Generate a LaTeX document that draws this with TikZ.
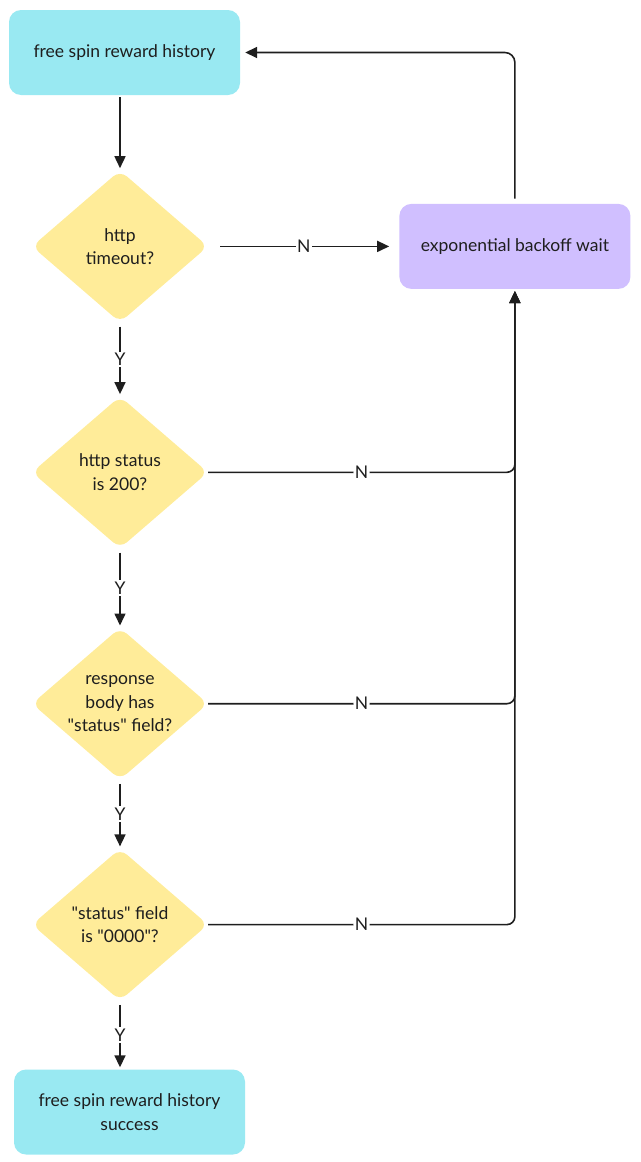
\documentclass[tikz,border=0pt]{standalone}
\usepackage{fontspec}
\setmainfont{Lato}
\usepackage{xcolor}
\usetikzlibrary{positioning,arrows.meta,shapes.geometric}
\definecolor{startfill}{HTML}{99E9F2}
\definecolor{waitfill}{HTML}{D0BFFF}
\definecolor{testfill}{HTML}{FFEC99}
\definecolor{ink}{HTML}{1E1E1E}
\newcommand{\dq}{\textquotedbl}

\begin{document}
\begin{tikzpicture}[x=1pt, y=-1pt, font=\fontsize{17.5}{23.5}\selectfont,
  box/.style={rounded corners=12pt, align=center, minimum width=231pt,
              minimum height=85pt, text=ink},
  test/.style={diamond, fill=testfill, rounded corners=9pt, align=center,
               inner sep=-20pt, minimum width=176pt, minimum height=152pt, text=ink},
  arr/.style={-{Triangle[length=12pt, width=11pt]}, line width=1.6pt, draw=ink,
              shorten <=4pt, shorten >=2pt},
  tag/.style={fill=white, inner sep=1.5pt, text=ink}]
\useasboundingbox (0,0) rectangle (640,1162);
\node[box, fill=startfill] (req) at (124.5,52.5) {free spin reward history};
\node[test, below=75pt of req, xshift=-4.5pt] (timeout) {http\\timeout?};
\node[box, fill=waitfill, right=191pt of timeout] (wait) {exponential backoff wait};
\node[test, below=73.5pt of timeout] (status) {http status\\is 200?};
\node[test, below=79pt of status] (field) {response\\body has\\\dq status\dq{} field?};
\node[test, below=68.5pt of field] (code) {\dq status\dq{} field\\is \dq 0000\dq?};
\node[box, fill=startfill, below=68.5pt of code, xshift=9.5pt] (done) {free spin reward history\\success};
% main column
\draw[arr, shorten <=2pt] (req.south -| timeout.north) -- (timeout.north);
\draw[arr] (timeout) -- node[tag] {Y} (status);
\draw[arr] (status) -- node[tag] {Y} (field);
\draw[arr] (field) -- node[tag] {Y} (code);
\draw[arr] (code) -- node[tag] {Y} (code.south |- done.north);
% retry branch
\draw[arr, shorten <=12pt, shorten >=10pt] (timeout) -- node[tag] {N} (wait);
\draw[arr, rounded corners=8pt, shorten <=0pt] (status.east) -| node[tag, pos=0.25] {N} (wait.south);
\draw[arr, rounded corners=8pt, shorten <=0pt] (field.east) -| node[tag, pos=0.25] {N} (wait.south);
\draw[arr, rounded corners=8pt, shorten <=0pt] (code.east) -| node[tag, pos=0.25] {N} (wait.south);
\draw[arr, rounded corners=10pt, shorten <=5pt, shorten >=5pt] (wait.north) |- (req.east);
\end{tikzpicture}
\end{document}
